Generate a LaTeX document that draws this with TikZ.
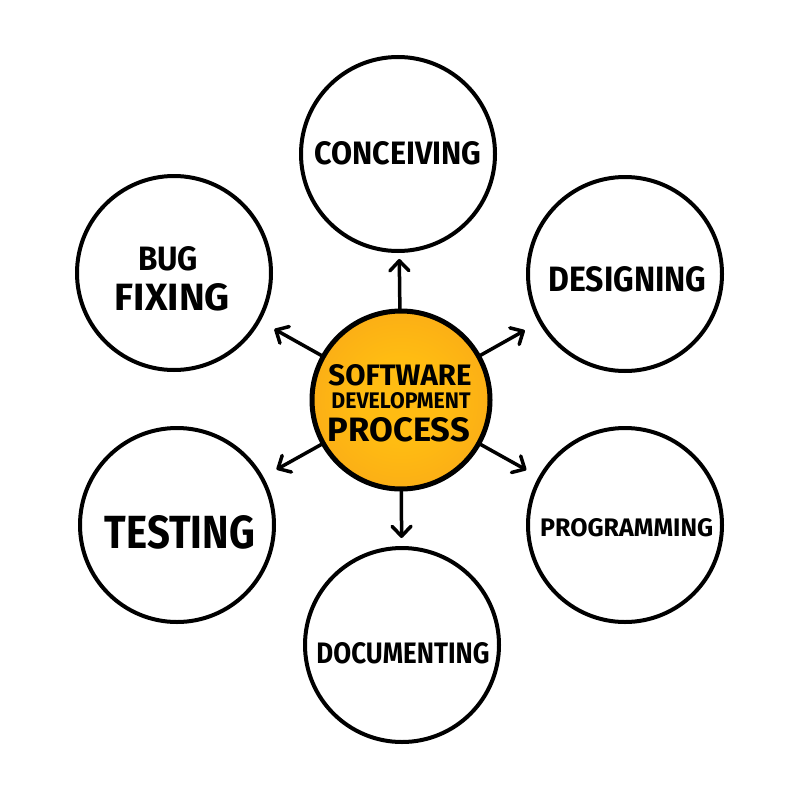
\documentclass[tikz,border=0pt]{standalone}
\usepackage{fontspec}
\setmainfont{Fira Sans}
\usetikzlibrary{arrows.meta}
\definecolor{hubin}{HTML}{FFBC12}
\definecolor{hubout}{HTML}{F5961C}
\pgfdeclareradialshading{hubshade}{\pgfpoint{0bp}{0bp}}{color(0bp)=(hubin); color(12bp)=(hubin); color(50bp)=(hubout)}
% \txl{width}{height}{dx}{dy}{text}: text fitted to width x height, shifted by dx (right) and dy (down)
\newcommand{\txl}[5]{\kern#3\makebox[0pt]{\raisebox{\dimexpr-#2/2-#4\relax}[0pt][0pt]{\resizebox{#1}{#2}{\bfseries #5}}}\kern-#3}
\begin{document}
\begin{tikzpicture}[x=1pt,y=-1pt,
  stage/.style={circle,draw=black,line width=4pt,minimum size=194pt,inner sep=0pt,outer sep=0pt,fill=white},
  hub/.style={circle,draw=black,line width=5pt,minimum size=178pt,inner sep=0pt,outer sep=0pt,shading=hubshade},
  arr/.style={line width=3.5pt,line cap=round,-{Straight Barb[length=10pt,width=19pt,line cap=round,line join=round]}}]
\useasboundingbox[fill=white] (0,0) rectangle (800,800);

\node[hub] (hub) at (401,400) {\txl{143pt}{21pt}{-1pt}{-25pt}{SOFTWARE}\txl{139pt}{16pt}{0pt}{0pt}{DEVELOPMENT}\txl{142pt}{24pt}{-2pt}{29.5pt}{PROCESS}};

\node[stage] (conc) at (398,154) {\txl{167pt}{23pt}{0pt}{-1pt}{CONCEIVING}};
\node[stage] (des)  at (625,274) {\txl{158pt}{25pt}{2.5pt}{5pt}{DESIGNING}};
\node[stage] (prog) at (625,525) {\txl{173pt}{18pt}{1.7pt}{2.5pt}{PROGRAMMING}};
\node[stage] (doc)  at (402,645) {\txl{173pt}{21pt}{1pt}{7.5pt}{DOCUMENTING}};
\node[stage] (test) at (177,525) {\txl{150pt}{33pt}{3pt}{6.7pt}{TESTING}};
\node[stage] (bug)  at (174,273) {\txl{60pt}{24pt}{-6pt}{-15pt}{BUG}\txl{115pt}{27pt}{-1.5pt}{23.7pt}{FIXING}};

\draw[arr,shorten >=8pt]  (hub) -- (conc);
\draw[arr,shorten >=18pt] (hub) -- (des);
\draw[arr,shorten >=16pt] (hub) -- (prog);
\draw[arr,shorten >=10pt] (hub) -- (doc);
\draw[arr,shorten >=17pt] (hub) -- (test);
\draw[arr,shorten >=18pt] (hub) -- (bug);
\end{tikzpicture}
\end{document}
